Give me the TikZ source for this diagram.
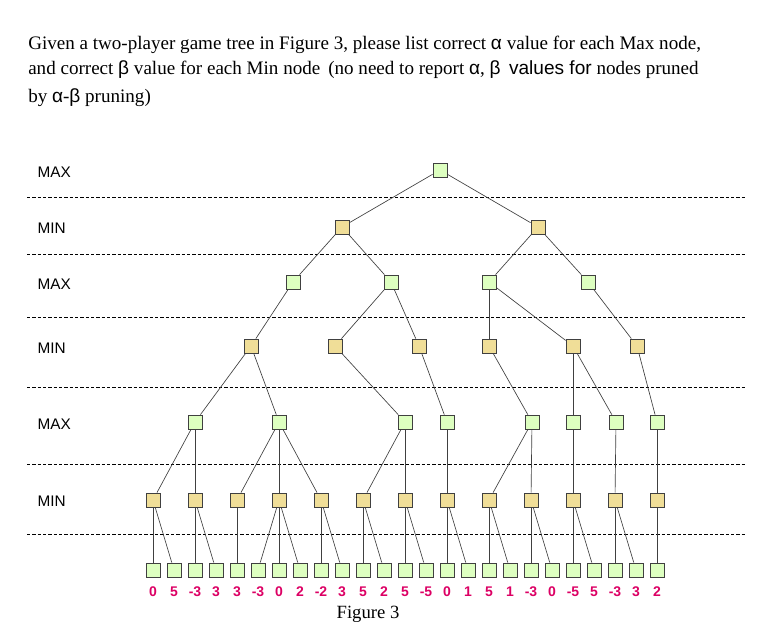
\documentclass[tikz,border=0pt]{standalone}
\usepackage{fontspec}
\setmainfont{Liberation Serif}
\setsansfont{Liberation Sans}
\newcommand{\ga}{{\sffamily α}}
\newcommand{\gb}{{\sffamily β}}
\begin{document}
\begin{tikzpicture}[x=0.75pt,y=-0.75pt,
  mx/.style={draw=black!75,fill=maxc,minimum size=10.5pt,inner sep=0pt,line width=0.6pt},
  mn/.style={draw=black!75,fill=minc,minimum size=10.5pt,inner sep=0pt,line width=0.6pt},
  ed/.style={draw=black!75,line width=0.5pt},
  sep/.style={line width=0.5pt,dash pattern=on 2.5pt off 1.5pt},
  lvl/.style={font=\sffamily\fontsize{11.5}{13}\selectfont,anchor=west},
  ttl/.style={anchor=west,font=\fontsize{14.3}{16}\selectfont,inner sep=0pt},
  val/.style={font=\sffamily\bfseries\fontsize{10.5}{12}\selectfont,text=valc}]
\definecolor{maxc}{RGB}{221,255,192}
\definecolor{minc}{RGB}{240,222,152}
\definecolor{valc}{RGB}{220,0,100}
\useasboundingbox (0,0) rectangle (769,632);
\node[ttl] (t1) at (28,45) {Given a two-player game tree in Figure 3, please list correct \ga{} value for each Max node,};
\node[ttl] (t2) at (28,70) {and correct \gb{} value for each Min node \,(no need to report \ga, \gb\;\,{\sffamily values for} nodes pruned};
\node[ttl] (t3) at (28,98) {by \ga-\gb{} pruning)};
% separators and labels
\foreach \y in {197,254,317,387,464,534} \draw[sep] (27,\y) -- (747,\y);
\node[lvl] (l1) at (33,172) {MAX};
\node[lvl] (l2) at (33,228) {MIN};
\node[lvl] (l3) at (33,284) {MAX};
\node[lvl] (l4) at (33,348) {MIN};
\node[lvl] (l5) at (33,424) {MAX};
\node[lvl] (l6) at (33,501) {MIN};
% leaves
\foreach \v [count=\i from 0] in {0,5,-3,3,3,-3,0,2,-2,3,5,2,5,-5,0,1,5,1,-3,0,-5,5,-3,3,2} {
  \node[mx] (L\i) at (153+21*\i,570) {};
  \node[val] (V\i) at (153+21*\i,592) {\v};
}
% bottom MIN
\foreach \i [count=\k from 0] in {0,2,4,6,8,10,12,14,16,18,20,22,24}
  \node[mn] (m\k) at (153+21*\i,500) {};
% MAX level
\foreach \x [count=\k from 0] in {195,279,405,447,532,573,616,657}
  \node[mx] (X\k) at (\x,422) {};
% MIN level
\foreach \x [count=\k from 0] in {251,335,419,489,573,637}
  \node[mn] (N\k) at (\x,346) {};
% MAX level 2
\foreach \x [count=\k from 0] in {293,391,489,588}
  \node[mx] (Y\k) at (\x,282) {};
\node[mn] (Z0) at (342,227) {};
\node[mn] (Z1) at (538,227) {};
\node[mx] (R) at (440,170) {};
% edges
\foreach \a/\b in {R/Z0,R/Z1,Z0/Y0,Z0/Y1,Z1/Y2,Z1/Y3,
  Y0/N0,Y1/N1,Y1/N2,Y2/N3,Y2/N4,Y3/N5,
  N0/X0,N0/X1,N1/X2,N2/X3,N3/X4,N4/X5,N4/X6,N5/X7,
  X0/m0,X0/m1,X1/m2,X1/m3,X1/m4,X2/m5,X2/m6,X3/m7,X4/m8,X4/m9,X5/m10,X6/m11,X7/m12,
  m0/L0,m0/L1,m1/L2,m1/L3,m2/L4,m3/L5,m3/L6,m3/L7,m4/L8,m4/L9,m5/L10,m5/L11,m6/L12,m6/L13,
  m7/L14,m7/L15,m8/L16,m8/L17,m9/L18,m9/L19,m10/L20,m10/L21,m11/L22,m11/L23,m12/L24}
  \draw[ed] (\a) -- (\b);
\node[font=\fontsize{14}{16}\selectfont] (fig) at (368,614) {Figure 3};
\end{tikzpicture}
\end{document}
